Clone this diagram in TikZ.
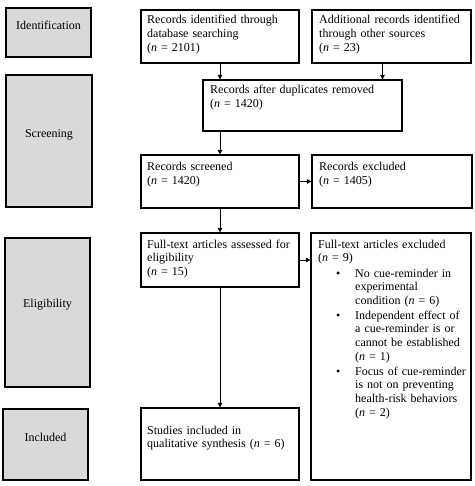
\documentclass[tikz,border=0pt]{standalone}
\usepackage{fontspec}
\setmainfont{Liberation Serif}
\usetikzlibrary{arrows.meta}
\definecolor{stagegray}{HTML}{D9D9D9}
\tikzset{
  box/.style={draw, line width=1.1pt, inner sep=0pt},
  stagebox/.style={box, fill=stagegray},
  stagelabel/.style={inner sep=0pt, font=\fontsize{12}{13.7}\selectfont},
  txt/.style={anchor=base west, inner sep=0pt, text width=220pt, align=left, font=\fontsize{12}{13.7}\selectfont},
  arr/.style={-{Triangle[length=4.5pt,width=4.5pt]}, line width=1pt},
}
\begin{document}
\begin{tikzpicture}[x=1pt,y=-1pt]
\useasboundingbox (0,0) rectangle (474,486);
% stage boxes
\node[stagebox, minimum width=85pt, minimum height=49pt] (ident) at (48.5,32.5) {};
\node[stagebox, minimum width=86pt, minimum height=132pt] (screen) at (49,141) {};
\node[stagebox, minimum width=85pt, minimum height=149pt] (elig) at (47.5,312.5) {};
\node[stagebox, minimum width=85pt, minimum height=71pt] (incl) at (45.5,444.5) {};
\node[stagelabel] (identL) at (48.5,25) {Identification};
\node[stagelabel] (screenL) at (49,135) {Screening};
\node[stagelabel] (eligL) at (47.5,305) {Eligibility};
\node[stagelabel] (inclL) at (45.5,437) {Included};
% flow boxes
\node[box, minimum width=158pt, minimum height=53pt] (rid) at (220,36.5) {};
\node[box, minimum width=159pt, minimum height=53pt] (add) at (391.5,36.5) {};
\node[box, minimum width=199pt, minimum height=51pt] (dup) at (302.5,105.5) {};
\node[box, minimum width=158pt, minimum height=53pt] (scr) at (220,181.5) {};
\node[box, minimum width=160pt, minimum height=53pt] (exc) at (392,181.5) {};
\node[box, minimum width=158pt, minimum height=54pt] (full) at (220,260) {};
\node[box, minimum width=160pt, minimum height=247pt] (fexc) at (391,356.5) {};
\node[box, minimum width=158pt, minimum height=72pt] (stud) at (220,444) {};
% texts
\node[txt] (ridT) at (147,24) {Records identified through\\database searching\\(\textit{n} = 2101)};
\node[txt] (addT) at (319,24) {Additional records identified\\through other sources\\(\textit{n} = 23)};
\node[txt] (dupT) at (210,94) {Records after duplicates removed\\(\textit{n} = 1420)};
\node[txt] (scrT) at (147,171) {Records screened\\(\textit{n} = 1420)};
\node[txt] (excT) at (319,171) {Records excluded\\(\textit{n} = 1405)};
\node[txt] (fullT) at (147,248) {Full-text articles assessed for\\eligibility\\(\textit{n} = 15)};
\node[txt] (fexcT) at (318,248) {Full-text articles excluded\\(\textit{n} = 9)};
\node[txt] (b1T) at (355,277) {No cue-reminder in\\experimental\\condition (\textit{n} = 6)};
\node[txt] (b2T) at (355,319) {Independent effect of\\a cue-reminder is or\\cannot be established\\(\textit{n} = 1)};
\node[txt] (b3T) at (355,375) {Focus of cue-reminder\\is not on preventing\\health-risk behaviors\\(\textit{n} = 2)};
\node[txt, text width=10pt] (b1) at (336,277) {•};
\node[txt, text width=10pt] (b2) at (336,319) {•};
\node[txt, text width=10pt] (b3) at (336,375) {•};
\node[txt] (studT) at (147,434) {Studies included in\\qualitative synthesis (\textit{n} = 6)};
% connectors
\draw[arr] (rid.south) -- (rid.south |- dup.north);
\draw[arr] ([xshift=-9pt]add.south) -- ([xshift=-9pt]add.south |- dup.north);
\draw[arr] (scr.north |- dup.south) -- (scr.north);
\draw[arr] (scr.east) -- (exc.west);
\draw[arr] (scr.south) -- (full.north);
\draw[arr] (full.east) -- (full.east -| fexc.west);
\draw[arr] (full.south) -- (stud.north);
\end{tikzpicture}
\end{document}
